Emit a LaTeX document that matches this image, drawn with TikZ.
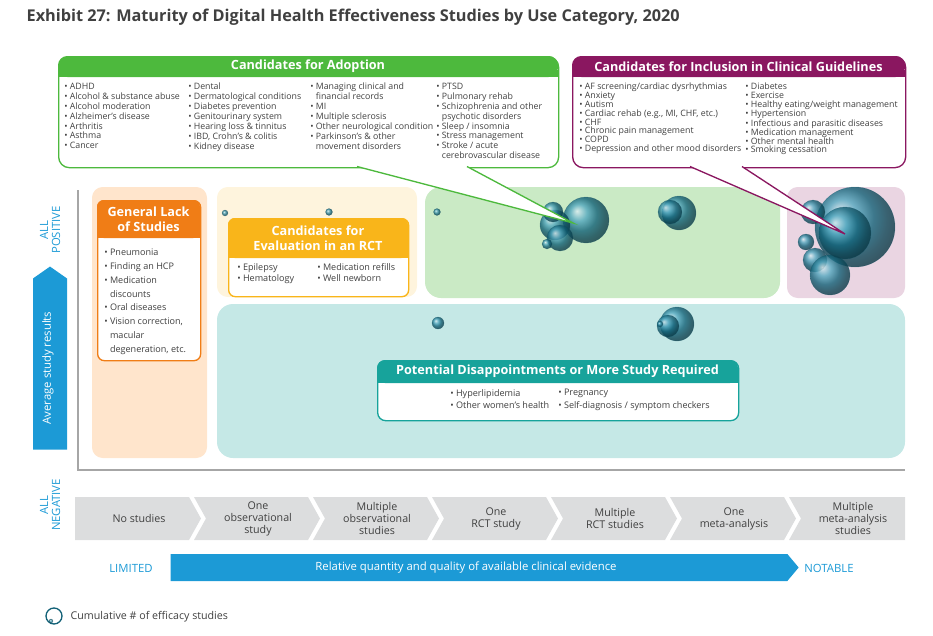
\documentclass[tikz,border=0pt]{standalone}
\usepackage{fontspec}
\setmainfont{Open Sans}
\usetikzlibrary{shapes.arrows,arrows.meta}
\definecolor{tgray}{HTML}{404040}
\definecolor{gr}{HTML}{4DB93D}
\definecolor{pu}{HTML}{8A1760}
\definecolor{orng}{HTML}{F07D16}
\definecolor{ylw}{HTML}{F9B51A}
\definecolor{tl}{HTML}{17A39B}
\definecolor{blu}{HTML}{1C9AD6}
\definecolor{bub}{HTML}{1A8BAA}
\definecolor{chev}{HTML}{DCDDDE}
\tikzset{
 lst/.style={anchor=north west,align=left,inner sep=0pt,font=\fontsize{6.6}{7.4}\selectfont,text=tgray},
 hdr/.style={text=white,font=\bfseries\fontsize{9.5}{11}\selectfont,align=center},
 bb/.style={ball color=bub,opacity=0.8,draw=bub!60!black,draw opacity=0.4,line width=0.3pt},
 chevlbl/.style={font=\fontsize{8}{9}\selectfont,text=tgray,align=center},
 blab/.style={font=\fontsize{8.5}{9}\selectfont,text=blu,align=center}
}
\begin{document}
\begin{tikzpicture}[x=0.75pt,y=-0.75pt]
\useasboundingbox (0,0) rectangle (933,636);
\node[anchor=west,text=tgray,font=\bfseries\fontsize{12.2}{14}\selectfont] (title) at (22,17) {Exhibit 27: Maturity of Digital Health Effectiveness Studies by Use Category, 2020};
% regions
\fill[orange!20!white,rounded corners=8] (92,187) rectangle (207,458);
\fill[ylw!15!white,rounded corners=8] (217,187) rectangle (417,297);
\fill[gr!30!white,rounded corners=12] (425,187) rectangle (780,298);
\fill[pu!18!white,rounded corners=8] (787,187) rectangle (905,298);
\fill[tl!25!white,rounded corners=12] (217,304) rectangle (905,458);
% axis
\draw[gray!70,line width=2.2pt] (78,190) -- (78,470) -- (905,470);
% small bubbles
\shade[bb] (225,213) circle (3);
\shade[bb] (329,212) circle (3.5);
\shade[bb] (437,212) circle (3.5);
\shade[bb] (438,323) circle (6);
% green cluster
\shade[bb] (586,220) circle (23);
\shade[bb] (555,225) circle (15);
\shade[bb] (553,212) circle (10);
\shade[bb] (560,238) circle (13);
\shade[bb] (547,244) circle (5);
\shade[bb] (679,213) circle (17);
\shade[bb] (670,212) circle (12);
\shade[bb] (677,324) circle (17);
\shade[bb] (668,326) circle (11);
\shade[bb] (660,324) circle (3);
% purple cluster
\shade[bb] (855,227) circle (40);
\shade[bb] (813,212) circle (12);
\shade[bb] (806,242) circle (8);
\shade[bb] (815,260) circle (12);
\shade[bb] (830,275) circle (20);
\shade[bb] (845,233) circle (26);
% adoption box
\node[draw=gr,line width=1pt,rounded corners=8,minimum width=500*0.75pt,minimum height=111*0.75pt,anchor=north west,inner sep=0] (adopt) at (58,56) {};
\fill[gr,rounded corners=7] (58,56) rectangle (558,77);
\fill[gr] (58,70) rectangle (558,77);
\node[hdr] (adopth) at (308,66.5) {Candidates for Adoption};
\coordinate (ga) at (357,166.5); \coordinate (gb) at (467,166.5); \coordinate (gt) at (573,223);
\fill[white] (ga) -- (gt) -- (gb) -- cycle;
\draw[gr,line width=1pt] (ga) -- (gt) -- (gb);
\node[lst] (a1) at (64,83) {• ADHD\\• Alcohol \& substance abuse\\• Alcohol moderation\\• Alzheimer's disease\\• Arthritis\\• Asthma\\• Cancer};
\node[lst] (a2) at (188,83) {• Dental\\• Dermatological conditions\\• Diabetes prevention\\• Genitourinary system\\• Hearing loss \& tinnitus\\• IBD, Crohn's \& colitis\\• Kidney disease};
\node[lst] (a3) at (310,83) {• Managing clinical and\\\phantom{• }financial records\\• MI\\• Multiple sclerosis\\• Other neurological condition\\• Parkinson's \& other\\\phantom{• }movement disorders};
\node[lst] (a4) at (436,83) {• PTSD\\• Pulmonary rehab\\• Schizophrenia and other\\\phantom{• }psychotic disorders\\• Sleep / insomnia\\• Stress management\\• Stroke / acute\\\phantom{• }cerebrovascular disease};
% guidelines box
\node[draw=pu,line width=1pt,rounded corners=8,minimum width=333*0.75pt,minimum height=111*0.75pt,anchor=north west,inner sep=0] (guide) at (572,56) {};
\fill[pu,rounded corners=7] (572,56) rectangle (905,77);
\fill[pu] (572,70) rectangle (905,77);
\node[hdr] (guideh) at (738.5,66.5) {Candidates for Inclusion in Clinical Guidelines};
\coordinate (pa) at (690,166.5); \coordinate (pb) at (742,166.5); \coordinate (pt) at (845,234);
\fill[white] (pa) -- (pt) -- (pb) -- cycle;
\draw[pu,line width=1pt] (pa) -- (pt) -- (pb);
\node[lst,font=\fontsize{6.6}{6.6}\selectfont] (g1) at (579,83) {• AF screening/cardiac dysrhythmias\\• Anxiety\\• Autism\\• Cardiac rehab (e.g., MI, CHF, etc.)\\• CHF\\• Chronic pain management\\• COPD\\• Depression and other mood disorders};
\node[lst,font=\fontsize{6.6}{6.6}\selectfont] (g2) at (745,83) {• Diabetes\\• Exercise\\• Healthy eating/weight management\\• Hypertension\\• Infectious and parasitic diseases\\• Medication management\\• Other mental health\\• Smoking cessation};
% general lack
\node[draw=orng,line width=1pt,fill=white,rounded corners=5,anchor=north west,minimum width=103*0.75pt,minimum height=160*0.75pt,inner sep=0] (glb) at (97,200) {};
\fill[orng,rounded corners=5] (97,200) rectangle (200,238);
\fill[orng] (97,230) rectangle (200,238);
\node[hdr] (glh) at (148.5,219) {General Lack\\of Studies};
\node[lst,font=\fontsize{6.8}{10.3}\selectfont] (gl) at (104,249) {• Pneumonia\\• Finding an HCP\\• Medication\\\phantom{• }discounts\\• Oral diseases\\• Vision correction,\\\phantom{• }macular\\\phantom{• }degeneration, etc.};
% RCT
\node[draw=ylw,line width=1pt,fill=white,rounded corners=5,anchor=north west,minimum width=180*0.75pt,minimum height=78*0.75pt,inner sep=0] (rctb) at (228,218) {};
\fill[ylw,rounded corners=5] (228,218) rectangle (408,258);
\fill[ylw] (228,250) rectangle (408,258);
\node[hdr] (rcth) at (318,238) {Candidates for\\Evaluation in an RCT};
\node[lst,font=\fontsize{6.8}{8.3}\selectfont] (r1) at (237,263) {• Epilepsy\\• Hematology};
\node[lst,font=\fontsize{6.8}{8.3}\selectfont] (r2) at (317,263) {• Medication refills\\• Well newborn};
% disappointments
\node[draw=tl,line width=1pt,fill=white,rounded corners=6,anchor=north west,minimum width=361*0.75pt,minimum height=60*0.75pt,inner sep=0] (pdb) at (377,360) {};
\fill[tl,rounded corners=6] (377,360) rectangle (738,383);
\fill[tl] (377,376) rectangle (738,383);
\node[hdr] (pdh) at (557.5,371.5) {Potential Disappointments or More Study Required};
\node[lst,font=\fontsize{6.8}{9.5}\selectfont] (p1) at (450,389) {• Hyperlipidemia\\• Other women's health};
\node[lst,font=\fontsize{6.8}{9.5}\selectfont] (p2) at (558,389) {• Pregnancy\\• Self-diagnosis / symptom checkers};
% left axis
\node[blab,rotate=90] (allpos) at (50,230) {ALL\\POSITIVE};
\node[blab,rotate=90] (allneg) at (50,505) {ALL\\NEGATIVE};
\node[single arrow,fill=blu,rotate=90,minimum height=183*0.75pt,minimum width=34*0.75pt,single arrow head extend=0pt,single arrow tip angle=110,inner sep=0pt] (varr) at (50,364) {};
\node[rotate=90,text=white,font=\fontsize{8.5}{9}\selectfont] (vtxt) at (48,368) {Average study results};
% chevrons
\foreach \i/\t in {0/No studies,1/One\\observational\\study,2/Multiple\\observational\\studies,3/One\\RCT study,4/Multiple\\RCT studies,5/One\\meta-analysis,6/Multiple\\meta-analysis\\studies}{
 \pgfmathsetmacro\xa{75+\i*119}
 \pgfmathsetmacro\xb{\xa+114}
 \ifnum\i=0
  \fill[chev] (\xa,497) -- (\xb,497) -- (\xb+12,518.5) -- (\xb,540) -- (\xa,540) -- cycle;
 \else\ifnum\i=6
  \fill[chev] (\xa,497) -- (905,497) -- (905,540) -- (\xa,540) -- (\xa+12,518.5) -- cycle;
 \else
  \fill[chev] (\xa,497) -- (\xb,497) -- (\xb+12,518.5) -- (\xb,540) -- (\xa,540) -- (\xa+12,518.5) -- cycle;
 \fi\fi
 \node[chevlbl] (c\i) at (\xa+64,518.5) {\t};
}
% bottom arrow
\node[single arrow,fill=blu,minimum height=628*0.75pt,minimum width=27*0.75pt,single arrow head extend=0pt,single arrow tip angle=100,inner sep=0pt] (harr) at (479,567.5) {};
\node[text=white,font=\fontsize{8.5}{9}\selectfont] (htxt) at (466,567.5) {Relative quantity and quality of available clinical evidence};
\node[blab] (lim) at (131,568) {LIMITED};
\node[blab] (nota) at (829,568) {NOTABLE};
% legend
\draw[bub!70!black,line width=1pt] (54,616) circle (8);
\shade[bb] (51,621) circle (2);
\node[anchor=west,text=tgray,font=\fontsize{8}{9}\selectfont] (leg) at (66,617) {Cumulative \# of efficacy studies};
\end{tikzpicture}
\end{document}
